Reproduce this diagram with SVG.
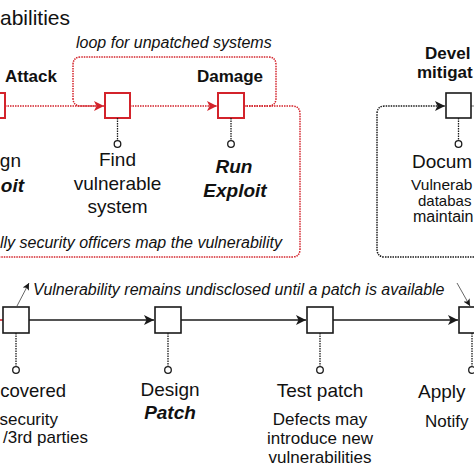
<svg xmlns="http://www.w3.org/2000/svg" width="474" height="474" viewBox="0 0 474 474">
<defs>
<style>
text{font-family:"Liberation Sans",Arial,sans-serif;fill:#111}
.t{font-size:19px}
.s{font-size:17px}
.ss{font-size:16px}
.b{font-weight:bold;font-size:17px}
.bi{font-weight:bold;font-style:italic;font-size:19px}
.it{font-style:italic;font-size:16px}
.rbox{fill:#fff;stroke:#d3232b;stroke-width:2}
.kbox{fill:#fff;stroke:#1a1a1a;stroke-width:1.6}
.rdot{fill:none;stroke:#d3232b;stroke-width:1.5;stroke-dasharray:1.5 1}
.kdot{fill:none;stroke:#1a1a1a;stroke-width:1.5;stroke-dasharray:1.5 1}
.stem{fill:none;stroke:#1a1a1a;stroke-width:1.3;stroke-dasharray:1.5 1}
.solid{fill:none;stroke:#1a1a1a;stroke-width:1.6}
.thin{fill:none;stroke:#555;stroke-width:0.9}
.pin{fill:#fff;stroke:#1a1a1a;stroke-width:1.3}
</style>
<marker id="ar" viewBox="0 0 10 10" refX="10" refY="5" markerWidth="11" markerHeight="10" markerUnits="userSpaceOnUse" orient="auto"><path d="M0,0 L10,5 L0,10 L2.5,5 Z" fill="#d3232b"/></marker>
<marker id="ak" viewBox="0 0 10 10" refX="10" refY="5" markerWidth="11" markerHeight="10" markerUnits="userSpaceOnUse" orient="auto"><path d="M0,0 L10,5 L0,10 L2.5,5 Z" fill="#1a1a1a"/></marker>
<marker id="as" viewBox="0 0 10 10" refX="10" refY="5" markerWidth="7" markerHeight="7" markerUnits="userSpaceOnUse" orient="auto"><path d="M0,0 L10,5 L0,10 L2.5,5 Z" fill="#1a1a1a"/></marker>
</defs>

<text x="0" y="25" style="font-size:21px">abilities</text>

<g id="connectors">
<path class="rdot" d="M5 106 H104" marker-end="url(#ar)"/>
<path class="rdot" d="M130 106 H217" marker-end="url(#ar)"/>
<path class="rdot" d="M244 106 H268 Q276 106 276 98 V65 Q276 57 268 57 H81 Q73 57 73 65 V98 Q73 106 81 106 H96"/>
<path class="rdot" d="M244 106 H292 Q300 106 300 114 V249 Q300 257 292 257 H0"/>
<path class="kdot" d="M474 257 H385 Q377 257 377 249 V114 Q377 106 385 106 H445" marker-end="url(#ak)"/>
<path d="M471 106 H474" stroke="#888" stroke-width="1.2"/>
<path d="M0 320 H3" stroke="#d3232b" stroke-width="1.6"/>
<path class="solid" d="M29 320 H154" marker-end="url(#ak)"/>
<path class="solid" d="M181 320 H306" marker-end="url(#ak)"/>
<path class="solid" d="M333 320 H458" marker-end="url(#ak)"/>
<path class="thin" d="M17 306 L29 283" marker-end="url(#as)"/>
<path class="thin" d="M457 283 L470 306" marker-end="url(#as)"/>
</g>

<text class="it" x="76" y="48">loop for unpatched systems</text>
<text class="it" x="0" y="248">lly security officers map the vulnerability</text>
<text class="it" x="33" y="295">Vulnerability remains undisclosed until a patch is available</text>

<g id="node-design-exploit">
<rect class="rbox" x="-21" y="93" width="26" height="25"/>
<text class="b" x="5" y="82">Attack</text>
<text class="t" x="21" y="167" text-anchor="end">gn</text>
<text class="bi" x="24" y="192" text-anchor="end">oit</text>
</g>

<g id="node-find">
<rect class="rbox" x="105" y="93" width="25" height="25"/>
<path class="stem" d="M117.5 118 V140"/>
<circle class="pin" cx="117.5" cy="144" r="3.3"/>
<text class="t" x="117.5" y="166" text-anchor="middle">Find</text>
<text class="t" x="117.5" y="190" text-anchor="middle">vulnerable</text>
<text class="t" x="117.5" y="213" text-anchor="middle">system</text>
</g>

<g id="node-run-exploit">
<rect class="rbox" x="218" y="93" width="26" height="25"/>
<text class="b" x="230" y="82" text-anchor="middle">Damage</text>
<path class="stem" d="M231 118 V140"/>
<circle class="pin" cx="231" cy="144" r="3.3"/>
<text class="bi" x="234" y="173" text-anchor="middle">Run</text>
<text class="bi" x="235" y="197" text-anchor="middle">Exploit</text>
</g>

<g id="node-document">
<rect class="kbox" x="446" y="93" width="25" height="25"/>
<text class="b" x="425" y="59">Devel</text>
<text class="b" x="417" y="78">mitigat</text>
<path class="stem" d="M458.5 118 V140"/>
<circle class="pin" cx="458.5" cy="144" r="3.3"/>
<text class="t" x="412" y="168">Docum</text>
<text class="ss" x="411" y="190" style="font-size:15.5px">Vulnerab</text>
<text class="ss" x="418" y="206" style="font-size:15px">databas</text>
<text class="ss" x="413" y="222">maintain</text>
</g>

<g id="node-discovered">
<rect class="kbox" x="3" y="307" width="26" height="26"/>
<path class="stem" d="M16 333 V366"/>
<circle class="pin" cx="16" cy="370" r="3.3"/>
<text class="t" x="66" y="397" text-anchor="end" style="font-size:18.5px">covered</text>
<text class="s" x="58" y="425" text-anchor="end">security</text>
<text class="s" x="88" y="443" text-anchor="end">/3rd parties</text>
</g>

<g id="node-design-patch">
<rect class="kbox" x="155" y="307" width="26" height="26"/>
<path class="stem" d="M168 333 V366"/>
<circle class="pin" cx="168" cy="370" r="3.3"/>
<text class="t" x="170" y="396" text-anchor="middle">Design</text>
<text class="bi" x="170" y="419" text-anchor="middle">Patch</text>
</g>

<g id="node-test-patch">
<rect class="kbox" x="307" y="307" width="26" height="26"/>
<path class="stem" d="M320 333 V366"/>
<circle class="pin" cx="320" cy="370" r="3.3"/>
<text class="t" x="320" y="397" text-anchor="middle">Test patch</text>
<text class="s" x="320" y="425" text-anchor="middle">Defects may</text>
<text class="s" x="320" y="444" text-anchor="middle">introduce new</text>
<text class="s" x="320" y="463" text-anchor="middle">vulnerabilities</text>
</g>

<g id="node-apply">
<rect class="kbox" x="459" y="307" width="26" height="26"/>
<path class="stem" d="M472 333 V366"/>
<circle class="pin" cx="472" cy="370" r="3.3"/>
<text class="t" x="418" y="398">Apply</text>
<text class="s" x="425" y="427">Notify</text>
</g>
</svg>
